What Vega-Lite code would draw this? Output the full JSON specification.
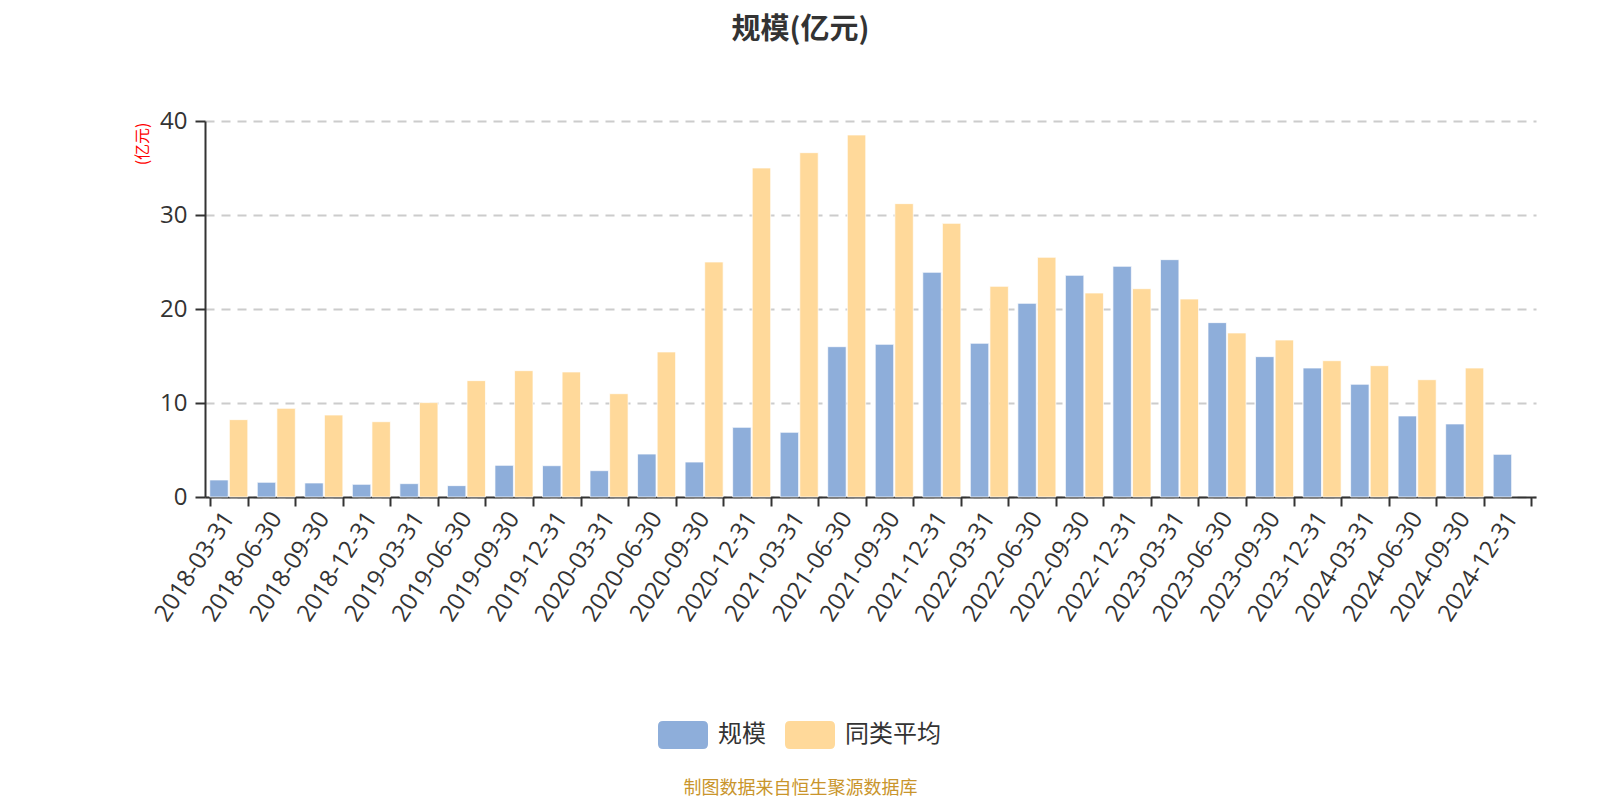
{
  "$schema": "https://vega.github.io/schema/vega-lite/v6.json",
  "width": 1331,
  "height": 376,
  "autosize": {"type": "none"},
  "padding": {"left": 205, "top": 121, "right": 64, "bottom": 303},
  "background": "#ffffff",
  "title": {
    "text": "规模(亿元)",
    "anchor": "middle",
    "frame": "group",
    "dx": -70,
    "fontSize": 29,
    "fontWeight": "bold",
    "font": "Noto Sans CJK SC",
    "color": "#333333",
    "baseline": "bottom",
    "offset": 35
  },
  "config": {
    "view": {"stroke": null},
    "font": "Noto Sans CJK SC"
  },
  "data": {
    "values": [
      {"date": "2018-03-31", "series": "规模", "value": 1.81},
      {"date": "2018-06-30", "series": "规模", "value": 1.56},
      {"date": "2018-09-30", "series": "规模", "value": 1.49},
      {"date": "2018-12-31", "series": "规模", "value": 1.35},
      {"date": "2019-03-31", "series": "规模", "value": 1.42},
      {"date": "2019-06-30", "series": "规模", "value": 1.21},
      {"date": "2019-09-30", "series": "规模", "value": 3.37},
      {"date": "2019-12-31", "series": "规模", "value": 3.33},
      {"date": "2020-03-31", "series": "规模", "value": 2.8},
      {"date": "2020-06-30", "series": "规模", "value": 4.57},
      {"date": "2020-09-30", "series": "规模", "value": 3.72},
      {"date": "2020-12-31", "series": "规模", "value": 7.41},
      {"date": "2021-03-31", "series": "规模", "value": 6.88},
      {"date": "2021-06-30", "series": "规模", "value": 15.99},
      {"date": "2021-09-30", "series": "规模", "value": 16.24},
      {"date": "2021-12-31", "series": "规模", "value": 23.9},
      {"date": "2022-03-31", "series": "规模", "value": 16.35},
      {"date": "2022-06-30", "series": "规模", "value": 20.6},
      {"date": "2022-09-30", "series": "规模", "value": 23.58},
      {"date": "2022-12-31", "series": "规模", "value": 24.54},
      {"date": "2023-03-31", "series": "规模", "value": 25.25},
      {"date": "2023-06-30", "series": "规模", "value": 18.55},
      {"date": "2023-09-30", "series": "规模", "value": 14.93},
      {"date": "2023-12-31", "series": "规模", "value": 13.72},
      {"date": "2024-03-31", "series": "规模", "value": 11.99},
      {"date": "2024-06-30", "series": "规模", "value": 8.62},
      {"date": "2024-09-30", "series": "规模", "value": 7.77},
      {"date": "2024-12-31", "series": "规模", "value": 4.54},
      {"date": "2018-03-31", "series": "同类平均", "value": 8.23},
      {"date": "2018-06-30", "series": "同类平均", "value": 9.43},
      {"date": "2018-09-30", "series": "同类平均", "value": 8.72},
      {"date": "2018-12-31", "series": "同类平均", "value": 8.01},
      {"date": "2019-03-31", "series": "同类平均", "value": 10.04},
      {"date": "2019-06-30", "series": "同类平均", "value": 12.38},
      {"date": "2019-09-30", "series": "同类平均", "value": 13.44},
      {"date": "2019-12-31", "series": "同类平均", "value": 13.3},
      {"date": "2020-03-31", "series": "同类平均", "value": 10.99},
      {"date": "2020-06-30", "series": "同类平均", "value": 15.43},
      {"date": "2020-09-30", "series": "同类平均", "value": 25.0},
      {"date": "2020-12-31", "series": "同类平均", "value": 35.0},
      {"date": "2021-03-31", "series": "同类平均", "value": 36.63},
      {"date": "2021-06-30", "series": "同类平均", "value": 38.51},
      {"date": "2021-09-30", "series": "同类平均", "value": 31.21},
      {"date": "2021-12-31", "series": "同类平均", "value": 29.11},
      {"date": "2022-03-31", "series": "同类平均", "value": 22.41},
      {"date": "2022-06-30", "series": "同类平均", "value": 25.5},
      {"date": "2022-09-30", "series": "同类平均", "value": 21.7},
      {"date": "2022-12-31", "series": "同类平均", "value": 22.16},
      {"date": "2023-03-31", "series": "同类平均", "value": 21.06},
      {"date": "2023-06-30", "series": "同类平均", "value": 17.45},
      {"date": "2023-09-30", "series": "同类平均", "value": 16.7},
      {"date": "2023-12-31", "series": "同类平均", "value": 14.5},
      {"date": "2024-03-31", "series": "同类平均", "value": 13.97},
      {"date": "2024-06-30", "series": "同类平均", "value": 12.48},
      {"date": "2024-09-30", "series": "同类平均", "value": 13.72}
    ]
  },
  "mark": {"type": "bar", "stroke": "#ffffff", "strokeWidth": 1, "strokeOpacity": 0.7},
  "encoding": {
    "x": {
      "field": "date",
      "type": "nominal",
      "sort": null,
      "scale": {"paddingInner": 0.2, "paddingOuter": 0.1},
      "axis": {
        "title": "制图数据来自恒生聚源数据库",
        "titleX": 595,
        "titleY": 291,
        "titleAnchor": null,
        "titleAlign": "center",
        "titleBaseline": "middle",
        "titleFontSize": 18,
        "titleFontWeight": "normal",
        "titleColor": "#C9952C",
        "titleFont": "Noto Sans CJK SC",
        "labelAngle": -57,
        "labelFontSize": 24,
        "labelFont": "Open Sans",
        "labelColor": "#333333",
        "labelPadding": 8,
        "domainColor": "#333333",
        "domainWidth": 2,
        "tickColor": "#333333",
        "tickWidth": 2,
        "tickSize": 9,
        "tickBand": "extent",
        "grid": false
      }
    },
    "xOffset": {
      "field": "series",
      "type": "nominal",
      "sort": ["规模", "同类平均"],
      "scale": {"paddingInner": 0.06}
    },
    "y": {
      "field": "value",
      "type": "quantitative",
      "scale": {"domain": [0, 40], "nice": false},
      "axis": {
        "values": [0, 10, 20, 30, 40],
        "title": "(亿元)",
        "titleColor": "#FF0000",
        "titleFontSize": 16,
        "titleFontWeight": "normal",
        "titleFont": "Noto Sans CJK SC",
        "titleAngle": -90,
        "titleX": -63,
        "titleY": 1,
        "titleAlign": "right",
        "titleBaseline": "middle",
        "labelFontSize": 24,
        "labelFont": "Open Sans",
        "labelColor": "#333333",
        "labelPadding": 8,
        "domainColor": "#333333",
        "domainWidth": 2,
        "tickColor": "#333333",
        "tickWidth": 2,
        "tickSize": 10,
        "grid": true,
        "gridColor": "#cccccc",
        "gridWidth": 2,
        "gridDash": [9, 7]
      }
    },
    "color": {
      "field": "series",
      "type": "nominal",
      "sort": ["规模", "同类平均"],
      "scale": {"domain": ["规模", "同类平均"], "range": ["#8EAEDA", "#FFD99A"]},
      "legend": {
        "title": null,
        "orient": "none",
        "legendX": 453,
        "legendY": 589,
        "direction": "horizontal",
        "padding": 0,
        "symbolType": "M-0.8,-0.56 L0.8,-0.56 Q1,-0.56 1,-0.36 L1,0.36 Q1,0.56 0.8,0.56 L-0.8,0.56 Q-1,0.56 -1,0.36 L-1,-0.36 Q-1,-0.56 -0.8,-0.56 Z",
        "symbolSize": 2500,
        "symbolStrokeWidth": 0,
        "symbolOpacity": 1,
        "labelFontSize": 24,
        "labelFont": "Noto Sans CJK SC",
        "labelColor": "#333333",
        "labelOffset": 10,
        "columnPadding": 19
      }
    }
  }
}
